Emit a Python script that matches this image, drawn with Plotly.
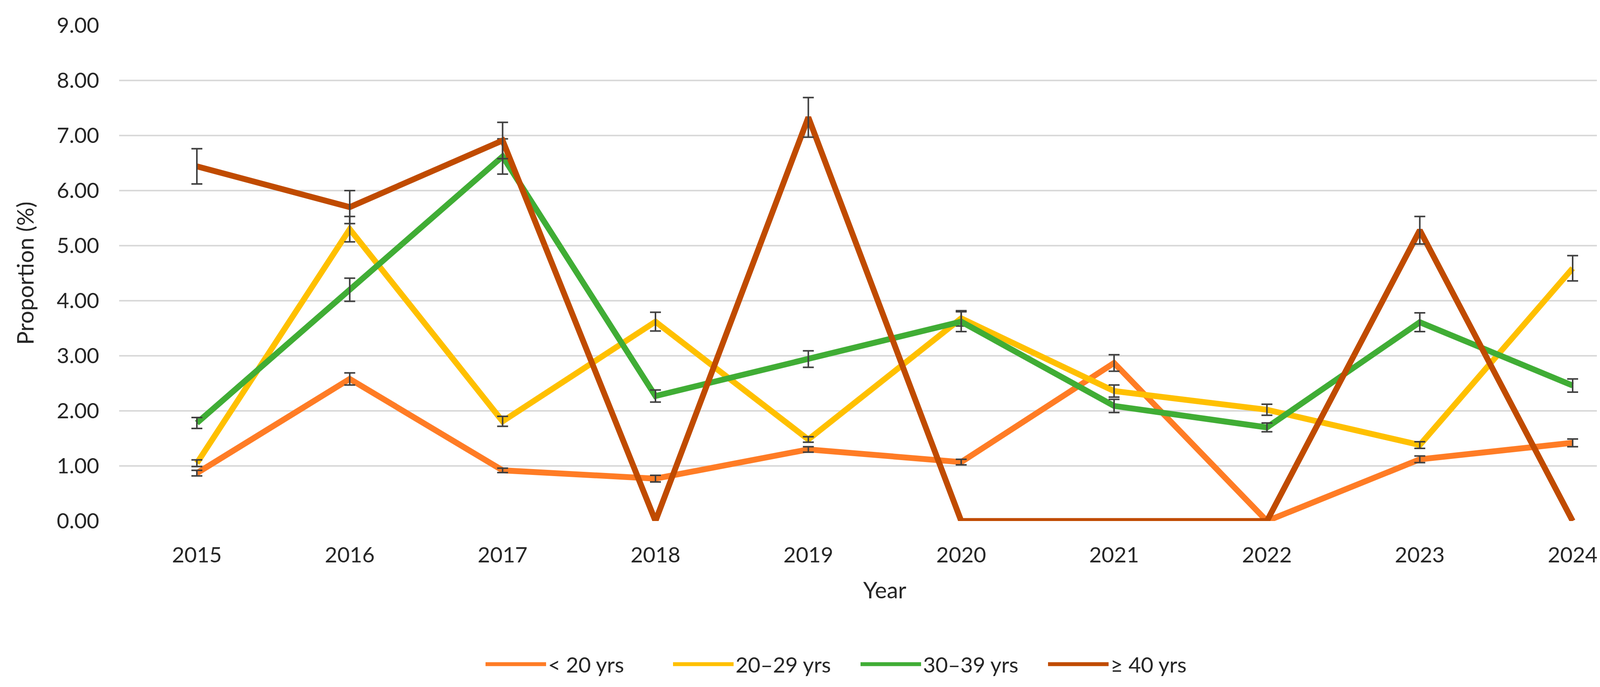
import plotly.graph_objects as go

# data
years = ['2015', '2016', '2017', '2018', '2019', '2020', '2021', '2022', '2023', '2024']

under20 = [0.87, 2.58, 0.92, 0.77, 1.30, 1.07, 2.87, 0.00, 1.12, 1.42]
under20_err = [0.05, 0.11, 0.04, 0.06, 0.05, 0.05, 0.15, None, 0.06, 0.07]

age20_29 = [1.05, 5.30, 1.81, 3.62, 1.48, 3.68, 2.36, 2.02, 1.38, 4.59]
age20_29_err = [0.06, 0.23, 0.09, 0.17, 0.05, 0.14, 0.11, 0.10, 0.06, 0.23]

age30_39 = [1.78, 4.20, 6.62, 2.27, 2.94, 3.62, 2.09, 1.70, 3.61, 2.46]
age30_39_err = [0.10, 0.21, 0.32, 0.11, 0.15, 0.18, 0.12, 0.08, 0.17, 0.12]

over40 = [6.44, 5.70, 6.91, 0.00, 7.33, 0.00, 0.00, 0.00, 5.28, 0.00]
over40_err = [0.32, 0.30, 0.33, None, 0.36, None, None, None, 0.25, None]

series = [
    ('< 20 yrs', under20, under20_err, '#FF7C25'),
    ('20\u201329 yrs', age20_29, age20_29_err, '#FFC000'),
    ('30\u201339 yrs', age30_39, age30_39_err, '#40AD35'),
    ('\u2265 40 yrs', over40, over40_err, '#C04B00'),
]

FONT = 'Lato'
TXT = '#262626'

fig = go.Figure()

for name, vals, errs, color in series:
    fig.add_trace(go.Scatter(
        x=years, y=vals, name=name, mode='lines',
        line=dict(color=color, width=15),
    ))
    # error bars only where the reference shows them (none at zero points)
    ex = [yr for yr, e in zip(years, errs) if e is not None]
    ey = [v for v, e in zip(vals, errs) if e is not None]
    ee = [e for e in errs if e is not None]
    fig.add_trace(go.Scatter(
        x=ex, y=ey, mode='markers', showlegend=False, hoverinfo='skip',
        marker=dict(size=1, color='rgba(0,0,0,0)'),
        error_y=dict(type='data', array=ee, visible=True,
                     color='#404040', thickness=4, width=14),
    ))

fig.update_layout(
    width=4251, height=1759,
    paper_bgcolor='white', plot_bgcolor='white',
    margin=dict(l=297, r=34, t=57, b=433),
    font=dict(family=FONT, size=55, color=TXT),
    showlegend=True,
    legend=dict(
        orientation='h', x=0.238, xanchor='left', y=-0.289, yanchor='middle',
        font=dict(family=FONT, size=55, color=TXT),
        itemwidth=155, entrywidth=310, entrywidthmode='pixels',
    ),
)

fig.update_xaxes(
    type='category', title=dict(text='Year', font=dict(size=58), standoff=40),
    showgrid=False, showline=False, zeroline=False,
    ticks='', ticklabelstandoff=50,
    tickfont=dict(size=55, color=TXT),
)
fig.update_yaxes(
    range=[0, 9], dtick=1, tickformat='.2f',
    title=dict(text='Proportion (%)', font=dict(size=58), standoff=40),
    showgrid=True, gridcolor='#D9D9D9', gridwidth=4,
    zeroline=False, showline=False, ticks='', ticklabelstandoff=50,
    tickfont=dict(size=55, color=TXT),
)

fig.write_html('out.html')
